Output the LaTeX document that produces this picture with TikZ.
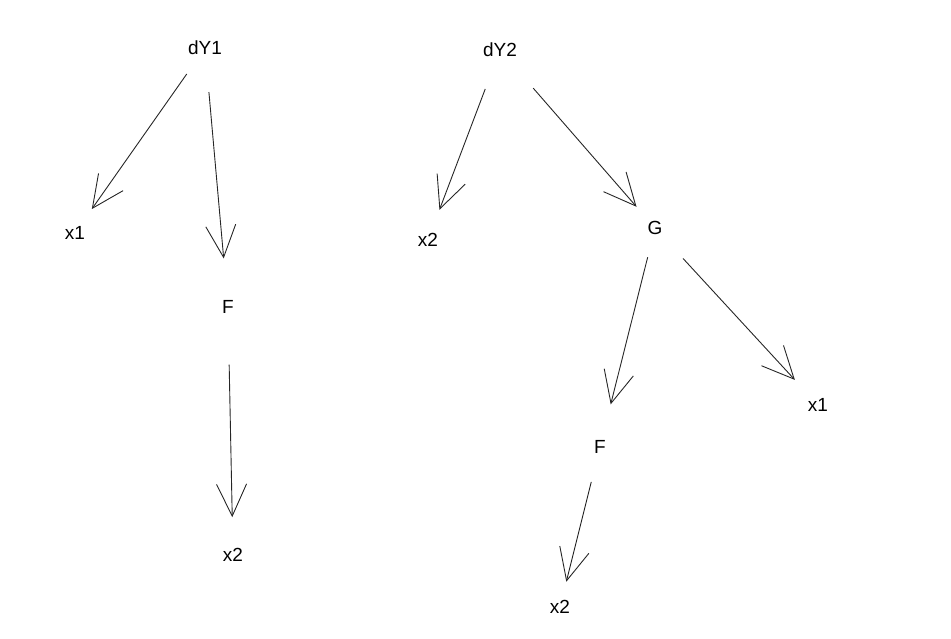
\documentclass[tikz,border=0pt]{standalone}
\usepackage{fontspec}
\setmainfont{Liberation Sans}
\usetikzlibrary{arrows.meta}
\begin{document}
\begin{tikzpicture}[x=1pt,y=-1pt,
  lbl/.style={inner sep=0pt,font=\fontsize{19}{22}\selectfont},
  edge/.style={draw=black!85,line width=0.9pt,-{Straight Barb[length=32pt,width=30pt,line width=0.9pt]}}]
\useasboundingbox (0,0) rectangle (951,638);
\node[lbl] (dY1) at (205,48) {dY1};
\node[lbl] (x1) at (75,233) {x1};
\node[lbl] (F) at (228,307) {F};
\node[lbl] (x2) at (233,555) {x2};
\node[lbl] (dY2) at (500,50) {dY2};
\node[lbl] (x2b) at (428,240) {x2};
\node[lbl] (G) at (655,228) {G};
\node[lbl] (F2) at (600,447) {F};
\node[lbl] (x1b) at (818,405) {x1};
\node[lbl] (x2c) at (560,607) {x2};
\draw[edge,shorten <=23pt,shorten >=21pt] (dY1) -- (x1);
\draw[edge,shorten <=37pt,shorten >=42pt] (dY1) -- (F);
\draw[edge,shorten <=51pt,shorten >=31pt] (F) -- (x2);
\draw[edge,shorten <=34pt,shorten >=25pt] (dY2) -- (x2b);
\draw[edge,shorten <=41pt,shorten >=19pt] (dY2) -- (G);
\draw[edge,shorten <=23pt,shorten >=37pt] (G) -- (F2);
\draw[edge,shorten <=32pt,shorten >=25pt] (G) -- (x1b);
\draw[edge,shorten <=29pt,shorten >=19pt] (F2) -- (x2c);
\end{tikzpicture}
\end{document}
